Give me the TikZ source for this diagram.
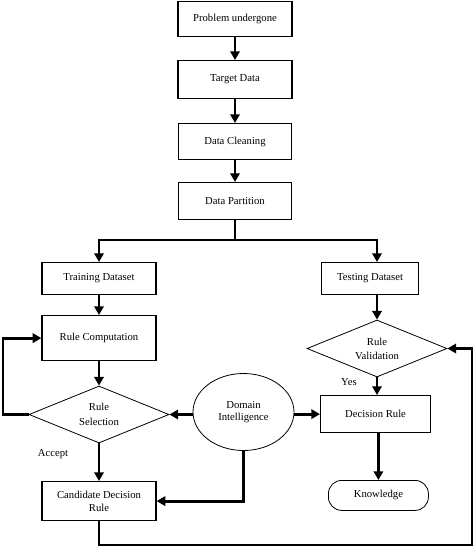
\documentclass[tikz,border=0pt]{standalone}
\usepackage{fontspec}
\setmainfont{Liberation Serif}
\usetikzlibrary{shapes.geometric,arrows.meta}
\tikzstyle{cadre} = [rectangle, draw=black, line width=0.9pt, inner sep=0pt, minimum width=85.5pt, align=center, font=\fontsize{8}{9.5}\selectfont]
\tikzstyle{losange} = [diamond, draw=black, line width=0.6pt, inner sep=0pt, aspect=2.4, minimum width=105pt, minimum height=42.75pt, align=center, font=\fontsize{8}{10.5}\selectfont]
\tikzstyle{ovale} = [ellipse, draw=black, line width=0.6pt, inner sep=0pt, minimum width=75.75pt, minimum height=57.75pt, align=center, font=\fontsize{8}{9.5}\selectfont]
\tikzstyle{lien} = [line width=2.2pt, -{Triangle[width=7pt,length=6.5pt]}]
\tikzstyle{trait} = [line width=2.2pt]

\begin{document}
\begin{tikzpicture}[x=0.75pt, y=-0.75pt]
                \useasboundingbox (0,0) rectangle (474,551);

                % colonne du haut
                \node (problem) [cadre, anchor=north, minimum height=26.25pt] at (235,1) {Problem undergone};
                \node (targetData) [cadre, anchor=north, minimum height=28.5pt] at (235,60) {Target Data};
                \node (dataCleaning) [cadre, anchor=north, minimum width=84.75pt, minimum height=27pt] at (235,123) {Data Cleaning};
                \node (dataPartition) [cadre, anchor=north, minimum width=84.75pt, minimum height=27.75pt] at (235,182) {Data Partition};

                % branche gauche
                \node (trainingDataset) [cadre, anchor=north, minimum height=24pt] at (99,262) {Training Dataset};
                \node (ruleComputation) [cadre, anchor=north, minimum height=33.75pt] at (99,315) {Rule Computation};
                \node (ruleSelection) [losange, font=\fontsize{8}{11}\selectfont] at (99,414.5) {Rule\\Selection};
                \node (candidateRule) [cadre, anchor=north, minimum height=29.25pt] at (99,481) {Candidate Decision\\Rule};
                \node (accept) [font=\fontsize{8}{9.5}\selectfont] at (53,454) {Accept};

                % branche droite
                \node (testingDataset) [cadre, anchor=north west, minimum width=72.75pt, minimum height=24pt] at (321,262) {Testing Dataset};
                \node (ruleValidation) [losange] at (377,348.5) {Rule\\Validation};
                \node (decisionRule) [cadre, anchor=north west, minimum width=82.5pt, minimum height=27.75pt] at (320,395) {Decision Rule};
                \node (knowledge) [cadre, anchor=north west, minimum width=75pt, minimum height=22.5pt, line width=0.6pt, rounded corners=10pt] at (328,480) {Knowledge};
                \node (yes) [font=\fontsize{8}{9.5}\selectfont] at (349,382) {Yes};

                \node (domain) [ovale] at (243.5,412) {Domain\\Intelligence};

                \coordinate (split) at (235,240);
                \coordinate (boucle) at (3,414.5);
                \coordinate (coinBas) at (99,545);
                \coordinate (coinDroit) at (472,545);

                \draw[lien] (problem) -- (targetData);
                \draw[lien] (targetData) -- (dataCleaning);
                \draw[lien] (dataCleaning) -- (dataPartition);
                \draw[trait] (dataPartition.south) -- (split);
                \draw[lien] (split) -| (trainingDataset.north);
                \draw[lien] (split) -| (testingDataset.north -| ruleValidation.north);
                \draw[lien] (trainingDataset) -- (ruleComputation);
                \draw[lien] (ruleComputation) -- (ruleSelection);
                \draw[lien] (ruleSelection.west) -- (boucle) |- (ruleComputation.west);
                \draw[lien] (ruleSelection) -- (candidateRule);
                \draw[lien] (ruleSelection.east -| domain.west) -- (ruleSelection.east);
                \draw[lien] (domain.south) |- (candidateRule.east);
                \draw[lien] (decisionRule.west -| domain.east) -- (decisionRule.west);
                \draw[lien] (testingDataset.south -| ruleValidation.north) -- (ruleValidation.north);
                \draw[lien] (ruleValidation.south) -- (decisionRule.north -| ruleValidation.south);
                \draw[lien] (decisionRule.south -| knowledge.north) -- (knowledge.north);
                \draw[lien] (candidateRule.south) -- (coinBas) -- (coinDroit) |- (ruleValidation.east);
            \end{tikzpicture}
\end{document}
